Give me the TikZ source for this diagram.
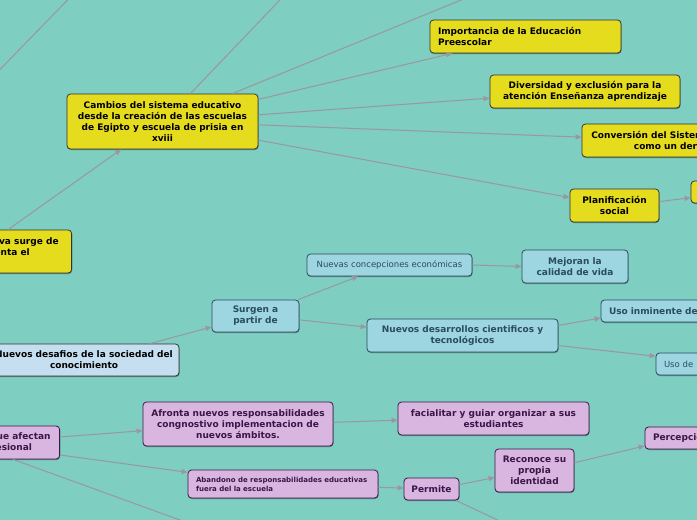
\documentclass[tikz,border=0pt]{standalone}
\usepackage{fontspec}
\setmainfont{DejaVu Sans}
\usetikzlibrary{arrows.meta, shadows}
\definecolor{mapbg}{RGB}{126,206,193}
\definecolor{mapyellow}{RGB}{230,220,30}
\definecolor{mapblue}{RGB}{157,213,225}
\definecolor{mappale}{RGB}{197,223,240}
\definecolor{mappurple}{RGB}{216,182,224}
\definecolor{bluetext}{RGB}{43,76,94}
\definecolor{purpletext}{RGB}{59,21,71}
\definecolor{maplink}{RGB}{155,150,160}

\begin{document}
\begin{tikzpicture}[x=1pt, y=-1pt,
        box/.style={draw, rounded corners=3.5pt, line width=0.8pt, align=center, inner sep=2pt,
            font=\fontsize{9}{11}\selectfont\bfseries,
            drop shadow={shadow xshift=0.5pt, shadow yshift=-1pt, fill=black, opacity=0.35}},
        yellowbox/.style={box, fill=mapyellow, draw=black!80, text=black},
        bluebox/.style={box, fill=mapblue, draw=bluetext, text=bluetext},
        palebox/.style={box, fill=mappale, draw=black!80, text=black},
        purplebox/.style={box, fill=mappurple, draw=purpletext, text=purpletext},
        link/.style={draw=maplink, line width=1pt},
        arrowlink/.style={link, -{Triangle[length=6pt, width=5pt]}}]
    \useasboundingbox (0,0) rectangle (697,520);
    \clip (0,0) rectangle (697,520);
    \fill[mapbg] (-50,-50) rectangle (750,570);

    % yellow branch
    \node[yellowbox, minimum width=191, minimum height=55] (cambios) at (162.5,121.5)
        {Cambios del sistema educativo\\desde la creación de las escuelas\\de Egipto y escuela de prisia en\\xviii};
    \node[yellowbox, text width=175, align=left, inner xsep=8, minimum height=33] (importancia) at (525.5,36.5)
        {Importancia de la Educación\\Preescolar};
    \node[yellowbox, minimum width=190, minimum height=33] (diversidad) at (585,91.5)
        {Diversidad y exclusión para la\\atención Enseñanza aprendizaje};
    \node[yellowbox, minimum width=191, minimum height=33] (conversion) at (677.5,140.5)
        {Conversión del Sistema Educativo\\como un derecho};
    \node[yellowbox, minimum width=89, minimum height=33] (planificacion) at (614.5,205.5)
        {Planificación\\social};
    \node[yellowbox, minimum width=108, minimum height=22] (siguiente) at (745,192) {};
    \node[yellowbox, align=left, inner xsep=13, minimum height=43, anchor=east] (escuela) at (72,251.5)
        {La Educación Nueva surge de\\la crisis que enfrenta el\\\mbox{}};

    % blue branch
    \node[palebox, minimum width=190, minimum height=32] (desafios) at (84,360)
        {Nuevos desafios de la sociedad del\\conocimiento};
    \node[bluebox, minimum width=87, minimum height=32] (surgen) at (255.5,316)
        {Surgen a\\partir de};
    \node[bluebox, font=\fontsize{8.5}{10}\selectfont, minimum width=165, minimum height=22] (concepciones) at (389.5,265)
        {Nuevas concepciones económicas};
    \node[bluebox, minimum width=106, minimum height=33] (mejoran) at (575,266.5)
        {Mejoran la\\calidad de vida};
    \node[bluebox, minimum width=191, minimum height=33] (desarrollos) at (462.5,335.5)
        {Nuevos desarrollos cientificos y\\tecnológicos};
    \node[bluebox, text width=143, align=left, inner xsep=8, minimum height=22] (inminente) at (680.5,311)
        {Uso inminente de};
    \node[bluebox, font=\fontsize{8.5}{10}\selectfont, text width=132, align=left, inner xsep=8, minimum height=22] (usode) at (730,364)
        {Uso de};

    % purple branch
    \node[purplebox, inner xsep=9, minimum height=33, anchor=east] (afectan) at (60,442.5)
        {Factores que afectan\\al profesional};
    \node[purplebox, minimum width=190, minimum height=44] (afronta) at (238,424)
        {Afronta nuevos responsabilidades\\congnostivo implementacion de\\nuevos ámbitos.};
    \node[purplebox, minimum width=191, minimum height=33] (facilitar) at (493.5,418.5)
        {facialitar y guiar organizar a sus\\estudiantes};
    \node[purplebox, font=\fontsize{7}{9}\selectfont\bfseries, text width=174, align=left, inner xsep=8, minimum height=28] (abandono) at (283,484)
        {Abandono de responsabilidades educativas\\fuera del la escuela};
    \node[purplebox, minimum width=55, minimum height=22] (permite) at (431.5,489)
        {Permite};
    \node[purplebox, minimum width=79, minimum height=43] (reconoce) at (534.5,470.5)
        {Reconoce su\\propia\\identidad};
    \node[purplebox, text width=134, align=left, inner xsep=8, minimum height=22] (percepcion) at (720,438)
        {Percepción};

    % loose ends
    \coordinate (offA) at (299,-20);
    \coordinate (offB) at (510,-20);
    \coordinate (offC) at (-20,90);
    \coordinate (offD) at (87,-20);
    \coordinate (offE) at (235,540);
    \coordinate (offF) at (540,540);

    % connectors
    \draw[link] (offC) -- (offD);
    \draw[link] (cambios.45) -- (offA);
    \draw[link] ([xshift=-26pt]cambios.north east) -- (offB);
    \draw[arrowlink] (cambios.13) -- (importancia.193);
    \draw[arrowlink] (cambios.4) -- (diversidad.184.5);
    \draw[arrowlink] (cambios.-2) -- (conversion.178);
    \draw[arrowlink] (cambios.-11) -- (planificacion.170.4);
    \draw[arrowlink] (planificacion.5.8) -- (siguiente.186);
    \draw[arrowlink] ([xshift=-64pt]escuela.north east) -- (cambios.214.2);

    \draw[arrowlink] (desafios.14) -- (surgen.194);
    \draw[arrowlink] (surgen.21) -- (concepciones.200.4);
    \draw[arrowlink] (surgen.-5) -- (desarrollos.175.6);
    \draw[arrowlink] (concepciones.east) -- (mejoran.west);
    \draw[arrowlink] (desarrollos.6.7) -- (inminente.185.7);
    \draw[arrowlink] (desarrollos.-6.2) -- (usode.174.7);

    \draw[arrowlink] ([yshift=5.5pt]afectan.east) -- (afronta.184.2);
    \draw[arrowlink] ([yshift=-12.5pt]afectan.east) -- (abandono.173);
    \draw[link] ([xshift=-47pt]afectan.south east) -- (offE);
    \draw[arrowlink] (afronta.1.2) -- (facilitar.181.5);
    \draw[arrowlink] (abandono.-2.4) -- (permite.178);
    \draw[arrowlink] (permite.9.6) -- (reconoce.190.5);
    \draw[link] (permite.-25) -- (offF);
    \draw[arrowlink] (reconoce.11.6) -- (percepcion.186.8);
\end{tikzpicture}
\end{document}
